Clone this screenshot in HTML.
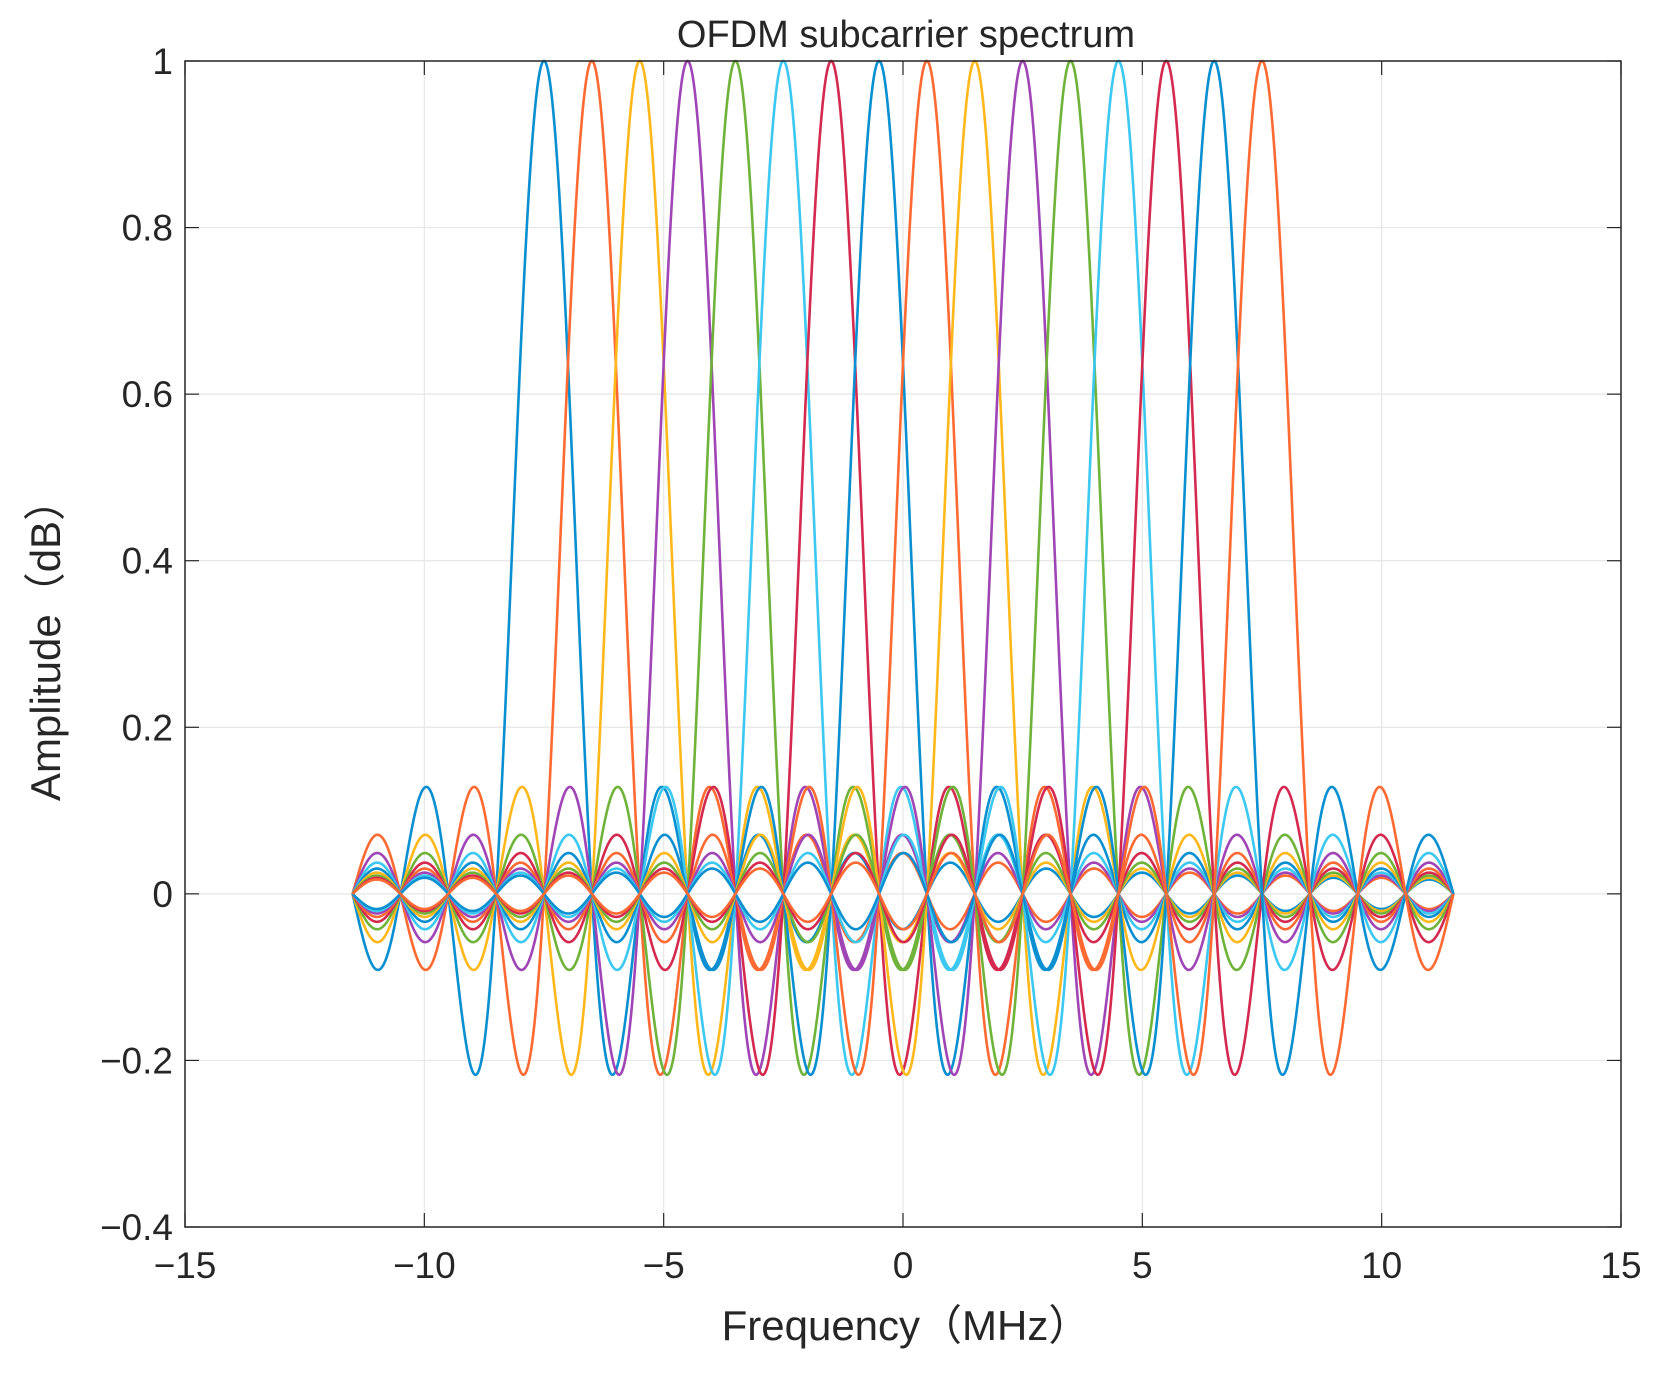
<!DOCTYPE html>
<html><head><meta charset="utf-8"><style>
html,body{margin:0;padding:0;background:#fff;}
svg text{font-family:"Liberation Sans","Noto Sans CJK SC",sans-serif;fill:#262626;}
</style></head><body>
<svg id="s" width="1678" height="1373" xmlns="http://www.w3.org/2000/svg">
<rect width="1678" height="1373" fill="#fff"/>
<g id="grid"></g>
<g id="lines"></g>
<rect x="185" y="61" width="1436" height="1166" fill="none" stroke="#262626" stroke-width="1.5"/>
<g id="ticks"></g>
<text x="906" y="47" font-size="38" text-anchor="middle">OFDM subcarrier spectrum</text>
<text x="906" y="1340" font-size="42" text-anchor="middle">Frequency（MHz）</text>
<text transform="translate(60,640) rotate(-90)" font-size="42" text-anchor="middle">Amplitude（dB）</text>
</svg>
<script>
const L=185,R=1621,T=61,B=1227;
const X=f=>L+(f+15)/30*(R-L), Y=v=>T+(1-v)/1.4*(B-T);
const ns="http://www.w3.org/2000/svg";
function el(p,t,a){const e=document.createElementNS(ns,t);for(const k in a)e.setAttribute(k,a[k]);p.appendChild(e);return e;}
const g=document.getElementById('grid'),tk=document.getElementById('ticks'),ln=document.getElementById('lines');
for(let f=-15;f<=15;f+=5){const x=X(f);
 el(g,'line',{x1:x,x2:x,y1:T,y2:B,stroke:'#e6e6e6','stroke-width':1.2});
 el(tk,'line',{x1:x,x2:x,y1:B,y2:B-14,stroke:'#262626','stroke-width':1.2});
 el(tk,'line',{x1:x,x2:x,y1:T,y2:T+14,stroke:'#262626','stroke-width':1.2});
 const t=el(tk,'text',{x:x,y:1278,'font-size':37,'text-anchor':'middle'});t.textContent=(f<0?'−':'')+Math.abs(f);}
for(let i=0;i<=7;i++){const v=1-0.2*i,y=Y(v);
 el(g,'line',{x1:L,x2:R,y1:y,y2:y,stroke:'#e6e6e6','stroke-width':1.2});
 el(tk,'line',{x1:L,x2:L+14,y1:y,y2:y,stroke:'#262626','stroke-width':1.2});
 el(tk,'line',{x1:R,x2:R-14,y1:y,y2:y,stroke:'#262626','stroke-width':1.2});
 let s=Math.abs(v)<1e-9?'0':(Math.abs(v-1)<1e-9?'1':(v<0?'−':'')+Math.abs(v).toFixed(1));
 const t=el(tk,'text',{x:L-12,y:y+13,'font-size':37,'text-anchor':'end'});t.textContent=s;}
const cols=['#0a8fd0','#ff6a33','#ffb81c','#a045b5','#6fb33a','#3cc8f0','#d42a4f'];
for(let k=0;k<16;k++){const c=-7.5+k;let d='';
 for(let f=-11.5;f<=11.5001;f+=0.01){const x=(f-c);const v=Math.abs(x)<1e-9?1:Math.sin(Math.PI*x)/(Math.PI*x);
  d+=(d?'L':'M')+X(f).toFixed(2)+' '+Y(v).toFixed(2);}
 el(ln,'path',{d:d,fill:'none',stroke:cols[k%7],'stroke-width':2.6});}
</script>
</body></html>
